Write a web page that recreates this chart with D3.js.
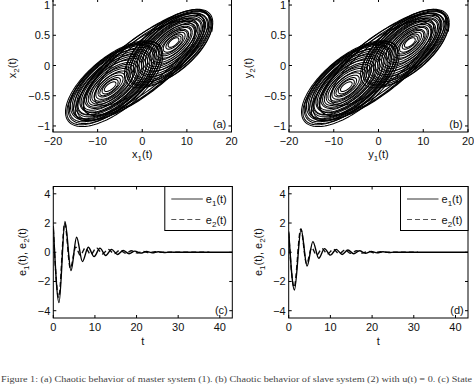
<!DOCTYPE html>
<html><head><meta charset="utf-8">
<script src="https://cdn.jsdelivr.net/npm/d3@7"></script>
<style>body{margin:0;background:#fff;} svg{display:block;}</style>
</head><body>
<svg id="chart" width="474" height="386"></svg>
<script>
// ---------------- data ----------------
const xTicks = [-20, -10, 0, 10, 20];
const x2Ticks = [-1, -0.5, 0, 0.5, 1];
const tTicks = [0, 10, 20, 30, 40];
const eTicks = [-4, -2, 0, 2, 4];

// attractor loops: right scroll
const rightA  = [1.2, 1.7, 2.2, 2.7, 3.2, 3.6, 4.1, 4.5, 5.0, 5.4, 5.9, 6.3, 6.7, 7.1, 7.5, 7.9, 8.3, 8.7, 9.0, 9.3, 9.6, 9.9];
const rightB  = [0.08, 0.11, 0.15, 0.18, 0.21, 0.24, 0.27, 0.30, 0.33, 0.36, 0.39, 0.42, 0.44, 0.47, 0.50, 0.52, 0.55, 0.57, 0.59, 0.61, 0.63, 0.65];
const rightCx = [7.0, 7.0, 6.9, 6.9, 6.9, 6.8, 6.8, 6.7, 6.7, 6.6, 6.6, 6.5, 6.5, 6.4, 6.4, 6.3, 6.3, 6.2, 6.2, 6.1, 6.0, 5.9];
const rightCy = [0.38, 0.38, 0.37, 0.37, 0.37, 0.36, 0.36, 0.35, 0.35, 0.34, 0.34, 0.33, 0.33, 0.32, 0.32, 0.31, 0.31, 0.30, 0.30, 0.29, 0.29, 0.28];
const rightPh = [0.9, 0.85, 0.9, 0.8, 0.85, 0.9, 0.8, 0.85, 0.9, 0.8, 0.85, 0.9, 0.8, 0.85, 0.9, 0.8, 0.85, 0.9, 0.8, 0.85, 0.9, 0.85];
// left scroll
const leftA  = [1.3, 1.8, 2.3, 2.8, 3.3, 3.8, 4.3, 4.8, 5.2, 5.7, 6.1, 6.6, 7.0, 7.4, 7.8, 8.2, 8.6, 9.0, 9.3, 9.7, 10.0, 10.3, 10.6, 10.9];
const leftB  = [0.08, 0.12, 0.15, 0.18, 0.22, 0.25, 0.28, 0.31, 0.34, 0.37, 0.40, 0.43, 0.46, 0.48, 0.51, 0.53, 0.56, 0.59, 0.61, 0.63, 0.65, 0.67, 0.69, 0.71];
const leftCx = [-7.2, -7.2, -7.2, -7.1, -7.1, -7.0, -7.0, -6.9, -6.9, -6.8, -6.8, -6.7, -6.7, -6.6, -6.6, -6.5, -6.5, -6.4, -6.4, -6.4, -6.3, -6.3, -6.3, -6.3];
const leftCy = [-0.35, -0.35, -0.35, -0.34, -0.34, -0.34, -0.33, -0.33, -0.32, -0.32, -0.31, -0.31, -0.31, -0.30, -0.30, -0.29, -0.29, -0.29, -0.28, -0.28, -0.28, -0.29, -0.29, -0.30];
const leftPh = [0.85, 0.9, 0.8, 0.85, 0.9, 0.8, 0.85, 0.9, 0.8, 0.85, 0.9, 0.8, 0.85, 0.9, 0.8, 0.85, 0.9, 0.8, 0.85, 0.9, 0.8, 0.85, 0.8, 0.85];
// loops spanning both scrolls
const bigA  = [11.5, 12.5, 13.5, 14.3, 15.0];
const bigB  = [0.72, 0.78, 0.84, 0.88, 0.92];
const bigCx = [0.8, -0.6, 0.3, -0.3, 0];
const bigCy = [0.06, -0.05, 0.02, -0.02, 0];
const bigPh = [0.62, 0.70, 0.62, 0.66, 0.62];
// unfinished end of the trajectory near the top-right (x1, x2)
const tail = [[12.2, 0.93], [14.2, 0.88], [15.4, 0.78], [15.7, 0.66], [15.6, 0.56]];

// synchronization errors, extrema [t, value]
const e1c = [[0,1.8],[1.37,-3.45],[2.8,2.1],[4.25,-1.26],[5.6,1.03],[7.0,-0.64],[8.4,0.34],[9.8,-0.3],[11.2,0.28],[12.6,-0.22],[14.0,0.2],[15.4,-0.15],[16.8,0.12],[18.2,-0.1],[19.6,0.08],[21.0,-0.06],[22.4,0.05],[23.8,-0.04],[25.2,0.03],[26.6,-0.02],[28,0.01],[30,0],[43,0]];
const e2c = [[0,1.6],[1.3,-3.1],[2.75,2.0],[4.1,-1.1],[5.4,0.35],[6.5,-0.2],[7.7,0.3],[9.0,-0.15],[10.4,0.3],[11.8,-0.12],[13.2,0.2],[14.6,-0.1],[16.0,0.14],[17.4,-0.08],[18.8,0.1],[20.2,-0.05],[21.6,0.06],[23,-0.03],[24.4,0.04],[26,0],[37.5,0]];
const e1d = [[0,1.41],[1.37,-2.58],[2.97,1.57],[4.4,-0.94],[5.8,0.73],[7.2,-0.41],[8.6,0.25],[10.0,-0.2],[11.4,0.2],[12.8,-0.15],[14.2,0.15],[15.6,-0.1],[17,0.1],[18.4,-0.07],[19.8,0.06],[21.2,-0.04],[22.6,0.03],[24,-0.02],[25.4,0.01],[27,0],[43,0]];
const e2d = [[0,1.3],[1.3,-2.4],[2.9,1.6],[4.3,-0.8],[5.5,0.3],[6.7,-0.2],[8.0,0.25],[9.3,-0.12],[10.7,0.2],[12.1,-0.1],[13.5,0.15],[14.9,-0.08],[16.3,0.1],[17.7,-0.05],[19.1,0.06],[20.5,-0.03],[22,0.03],[23.5,0],[31,0]];

const caption = "Figure 1: (a) Chaotic behavior of master system (1).  (b) Chaotic behavior of slave system (2) with u(t) = 0.  (c) State";

// ---------------- drawing ----------------
const svg = d3.select("#chart");
const FONT = "'Liberation Sans', Arial, Helvetica, sans-serif";
let clipId = 0;

function frame(xr, yr, xd, yd, xt, yt, fmtY) {
  const x = d3.scaleLinear().domain(xd).range(xr);
  const y = d3.scaleLinear().domain(yd).range(yr);
  const g = svg.append("g");
  const id = "clip" + (clipId++);
  svg.append("clipPath").attr("id", id).append("rect")
    .attr("x", xr[0]).attr("y", yr[1]).attr("width", xr[1]-xr[0]).attr("height", yr[0]-yr[1]);
  const plot = g.append("g").attr("clip-path", `url(#${id})`);
  const axes = g.append("g");
  const tl = 3;
  xt.forEach(v => {
    const px = x(v);
    axes.append("line").attr("x1",px).attr("x2",px).attr("y1",yr[0]).attr("y2",yr[0]-tl);
    axes.append("line").attr("x1",px).attr("x2",px).attr("y1",yr[1]).attr("y2",yr[1]+tl);
    axes.append("text").attr("x",px).attr("y",yr[0]+13).attr("text-anchor","middle")
      .text(String(v).replace("-", "\u2212"));
  });
  yt.forEach(v => {
    const py = y(v);
    axes.append("line").attr("x1",xr[0]).attr("x2",xr[0]+tl).attr("y1",py).attr("y2",py);
    axes.append("line").attr("x1",xr[1]).attr("x2",xr[1]-tl).attr("y1",py).attr("y2",py);
    axes.append("text").attr("x",xr[0]-3).attr("y",py+4).attr("text-anchor","end")
      .text(fmtY(v).replace("-", "\u2212"));
  });
  axes.append("rect").attr("x",xr[0]).attr("y",yr[1]).attr("width",xr[1]-xr[0]).attr("height",yr[0]-yr[1])
    .attr("fill","none");
  axes.selectAll("line,rect").attr("stroke","#000").attr("stroke-width",1);
  axes.selectAll("text").attr("font-family",FONT).attr("font-size",11).attr("fill","#111");
  return {x, y, plot, g};
}

function subLabel(parent, x, y, base, sub, rest, rotate) {
  const t = parent.append("text").attr("font-family",FONT).attr("font-size",11).attr("fill","#111")
    .attr("text-anchor","middle");
  if (rotate) t.attr("transform",`translate(${x},${y}) rotate(-90)`);
  else t.attr("x",x).attr("y",y);
  const parts = Array.isArray(base) ? base : [[base, sub, rest]];
  parts.forEach(p => {
    t.append("tspan").text(p[0]);
    t.append("tspan").attr("font-size",8).attr("dy",3).text(p[1]);
    t.append("tspan").attr("dy",-3).text(p[2]);
  });
  return t;
}

function loopPts(cx, cy, A, B, ph) {
  const pts = [];
  for (let k = 0; k <= 160; k++) {
    const t = k / 160 * 2 * Math.PI;
    pts.push([cx + A * Math.cos(t), cy + B * Math.cos(t - ph)]);
  }
  return pts;
}

function attractor(xr, labelX, labelY, panelTag) {
  const f = frame(xr, [132, -1], [-20, 20], [-1.1, 1.1], xTicks, x2Ticks, v => String(v));
  const line = d3.line().x(d => f.x(d[0])).y(d => f.y(d[1])).curve(d3.curveLinear);
  const loops = [];
  rightA.forEach((a, i) => loops.push(loopPts(rightCx[i], rightCy[i], a, rightB[i], rightPh[i])));
  leftA.forEach((a, i) => loops.push(loopPts(leftCx[i], leftCy[i], a, leftB[i], leftPh[i])));
  bigA.forEach((a, i) => loops.push(loopPts(bigCx[i], bigCy[i], a, bigB[i], bigPh[i])));
  f.plot.selectAll("path.loop").data(loops).join("path").attr("class","loop")
    .attr("d", line).attr("fill","none").attr("stroke","#000").attr("stroke-width",1.05);
  f.plot.append("path").attr("d", d3.line().x(d => f.x(d[0])).y(d => f.y(d[1])).curve(d3.curveCatmullRom)(tail))
    .attr("fill","none").attr("stroke","#000").attr("stroke-width",1.05);
  const mid = (xr[0] + xr[1]) / 2;
  subLabel(f.g, mid, 158, labelX, "1", "(t)", false);
  subLabel(f.g, xr[0]-37, 68, labelY, "2", "(t)", true);
  f.g.append("text").attr("x", xr[1]-12).attr("y", 128).attr("text-anchor","middle")
    .attr("font-family",FONT).attr("font-size",11).attr("fill","#111").text(panelTag);
}

function errors(xr, e1, e2, panelTag) {
  const f = frame(xr, [318, 186.5], [0, 43], [-4.5, 4.5], tTicks, eTicks, v => String(v));
  const line = d3.line().x(d => f.x(d[0])).y(d => f.y(d[1])).curve(d3.curveMonotoneX);
  f.plot.append("path").attr("d", line(e2)).attr("fill","none").attr("stroke","#111")
    .attr("stroke-width",1.4).attr("stroke-dasharray","5,3");
  f.plot.append("path").attr("d", line(e1)).attr("fill","none").attr("stroke","#000")
    .attr("stroke-width",1.4);
  const mid = (xr[0] + xr[1]) / 2;
  f.g.append("text").attr("x", mid).attr("y", 345).attr("text-anchor","middle")
    .attr("font-family",FONT).attr("font-size",11).attr("fill","#111").text("t");
  subLabel(f.g, xr[0]-27, 252, [["e","1","(t), "],["e","2","(t)"]], null, null, true);
  f.g.append("text").attr("x", xr[1]-11).attr("y", 314).attr("text-anchor","middle")
    .attr("font-family",FONT).attr("font-size",11).attr("fill","#111").text(panelTag);
  const lx0 = xr[1] - 67.5, ly0 = 186.5;
  const lg = f.g.append("g");
  lg.append("rect").attr("x", lx0).attr("y", ly0).attr("width", xr[1]-lx0).attr("height", 44)
    .attr("fill","#fff").attr("stroke","#000").attr("stroke-width",1);
  lg.append("line").attr("x1", lx0+6.5).attr("x2", lx0+38).attr("y1", 199).attr("y2", 199)
    .attr("stroke","#333").attr("stroke-width",1);
  lg.append("line").attr("x1", lx0+6.5).attr("x2", lx0+38).attr("y1", 219.5).attr("y2", 219.5)
    .attr("stroke","#555").attr("stroke-width",1).attr("stroke-dasharray","5,3");
  subLabel(lg, lx0+51.5, 203, "e", "1", "(t)", false);
  subLabel(lg, lx0+51.5, 223.5, "e", "2", "(t)", false);
}

attractor([53, 231.5], "x", "x", "(a)");
attractor([289, 468], "y", "y", "(b)");
errors([53.3, 232.3], e1c, e2c, "(c)");
errors([288.7, 468], e1d, e2d, "(d)");

svg.append("text").attr("x", 1).attr("y", 382).attr("font-family","'Liberation Serif','DejaVu Serif',serif")
  .attr("font-size", 8).attr("fill","#444").attr("textLength", 471).attr("lengthAdjust","spacingAndGlyphs")
  .text(caption);
</script>
</body></html>
